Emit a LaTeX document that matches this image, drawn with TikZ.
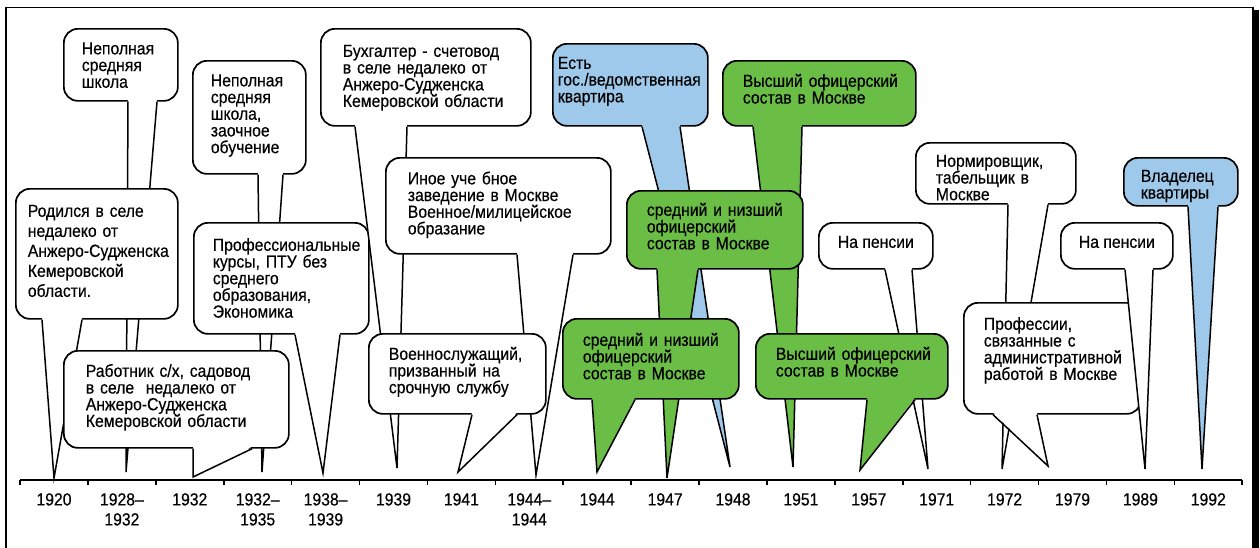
\documentclass[tikz,border=0pt]{standalone}
\usepackage{fontspec}
\setmainfont{Liberation Sans}[FakeStretch=0.9,FakeBold=0.4]
\usepackage{xcolor}
\usetikzlibrary{calc}
\definecolor{bubblegreen}{RGB}{106,189,69}
\definecolor{bubbleblue}{RGB}{158,201,234}
\newcommand{\bubblefont}{\fontsize{17.5}{16.7}\selectfont}
\newcommand{\yearfont}{\fontsize{17.5}{20}\selectfont}
% tail of a bubble: fill, node, left x, right x, tip
\newcommand{\calltail}[5]{%
  \fill[#1] ($(#3,0 |- #2.south)+(0,-2)$) -- (#5) -- ($(#4,0 |- #2.south)+(0,-2)$) -- cycle;
  \draw[tail] (#3,0 |- #2.south) -- (#5) -- (#4,0 |- #2.south);
}

\begin{document}
\begin{tikzpicture}[
  x=1pt,y=-1pt,
  bubble/.style={draw,line width=1.7pt,rounded corners=14pt,anchor=north west,
                 align=left,inner sep=0pt,fill=white,font=\bubblefont},
  greenbubble/.style={bubble,fill=bubblegreen},
  bluebubble/.style={bubble,fill=bubbleblue},
  % width, height, left inset of the text, first baseline below the top
  dims/.code n args={4}{%
    \pgfmathsetlengthmacro\bubbledepth{#2-#4}%
    \tikzset{minimum width=#1pt,minimum height=#2pt,text width=#1pt,
             text height=#4pt,text depth/.expanded=\bubbledepth,
             execute at begin node={\leftskip=#3pt\relax}}},
  tail/.style={line width=1.5pt},
  axis/.style={line width=1.6pt},
  year/.style={anchor=north,align=center,inner sep=0pt,font=\yearfont}
]
\useasboundingbox (0,0) rectangle (1260,547);
\draw[line width=1.5pt] (6,7.5) rectangle (1253,570);
\fill (1253,10) rectangle (1259,570);

% time axis
\draw[axis] (20,480) -- (1242,480);
\foreach \k in {0,...,18}
  \draw[axis] (20+67.9*\k,480) -- ++(0,5);
\foreach \yr [count=\k from 0] in {1920,{1928–\\1932},1932,{1932–\\1935},{1938–\\1939},1939,1941,
    {1944–\\1944},1944,1947,1948,1951,1957,1971,1972,1979,1989,1992}
  \node[year] (y\k) at (54+67.9*\k,493) {\yr};

% tail tips
\coordinate (p1920) at (54,478);
\coordinate (p1928) at (126,472);
\coordinate (p1932) at (193,477);
\coordinate (p1932b) at (262,472);
\coordinate (p1938) at (323,473);
\coordinate (p1939) at (397,468);
\coordinate (p1941) at (458,472);
\coordinate (p1944a) at (536,475);
\coordinate (p1944) at (597,472);
\coordinate (p1947) at (667,478);
\coordinate (p1948) at (730,467);
\coordinate (p1951) at (793,467);
\coordinate (p1957) at (860,470);
\coordinate (p1971) at (928,469);
\coordinate (p1972) at (1002,469);
\coordinate (p1979) at (1048,466);
\coordinate (p1989) at (1145,469);
\coordinate (p1992) at (1202,469);

% bubbles, back to front
\node[bubble,dims={114}{72}{18}{25.5}] (school1) at (63,28)
  {Неполная\\средняя\\школа};
\calltail{white}{school1}{128}{157}{p1928}
\node[bubble,dims={162}{130}{12}{28},font=\fontsize{17.5}{20}\selectfont] (born) at (15,188)
  {Родился в селе\\недалеко от\\Анжеро-Судженска\\Кемеровской\\области.};
\calltail{white}{born}{42}{82}{p1920}
\node[bubble,dims={113}{113}{18}{25.5}] (school2) at (192,60)
  {Неполная\\средняя\\школа,\\заочное\\обучение};
\calltail{white}{school2}{258}{283}{p1932b}
\node[bubble,dims={175}{111}{19}{28}] (courses) at (193,222)
  {Профессиональные\\курсы, ПТУ без\\среднего\\образования,\\Экономика};
\calltail{white}{courses}{295}{340}{p1938}
\node[bubble,dims={225}{97}{22}{26}] (farm) at (63,350)
  {Работник с/х, садовод\\в селе\ \ недалеко от\\Анжеро-Судженска\\Кемеровской области};
\calltail{white}{farm}{193}{252}{p1932}
\node[bubble,dims={210}{97}{22}{28}] (acct) at (320,28)
  {Бухгалтер - счетовод\\в селе недалеко от\\Анжеро-Судженска\\Кемеровской области};
\calltail{white}{acct}{355}{407}{p1939}
\node[bubble,dims={225}{96}{22}{26.5}] (other) at (385,157)
  {Иное уче бное\\заведение в Москве\\Военное/милицейское\\образание};
\calltail{white}{other}{517}{573}{p1944a}
\node[bubble,dims={177}{80}{20}{26}] (soldier) at (368,333)
  {Военнослужащий,\\призванный на\\срочную службу};
\calltail{white}{soldier}{472}{517}{p1941}
\node[bluebubble,dims={155}{82}{5}{25}] (flat) at (552,43)
  {Есть\\гос./ведомственная\\квартира};
\calltail{bubbleblue}{flat}{642}{680}{p1948}
\node[greenbubble,dims={193}{65}{20}{26}] (high1) at (722,60)
  {Высший офицерский\\состав в Москве};
\calltail{bubblegreen}{high1}{753}{802}{p1951}
\node[greenbubble,dims={176}{78}{20}{25}] (mid1) at (626,190)
  {средний и низший\\офицерский\\состав в Москве};
\calltail{bubblegreen}{mid1}{657}{698}{p1947}
\node[greenbubble,dims={176}{80}{20}{27}] (mid2) at (562,318)
  {средний и низший\\офицерский\\состав в Москве};
\calltail{bubblegreen}{mid2}{592}{635}{p1944}
\node[bubble,minimum width=114pt,minimum height=46pt,align=center,
      text height=25pt,text depth=21pt] (pension1) at (818,222)
  {На пенсии};
\calltail{white}{pension1}{885}{912}{p1971}
\node[greenbubble,dims={192}{65}{20}{26}] (high2) at (755,333)
  {Высший офицерский\\состав в Москве};
\calltail{bubblegreen}{high2}{867}{915}{p1957}
\node[bubble,dims={160}{61}{20}{24}] (norm) at (915,142)
  {Нормировщик,\\табельщик в\\Москве};
\calltail{white}{norm}{1008}{1048}{p1972}
\node[bubble,dims={177}{111}{20}{27}] (admin) at (963,302)
  {Профессии,\\связанные с\\административной\\работой в Москве};
\calltail{white}{admin}{993}{1037}{p1979}
\node[bubble,minimum width=112pt,minimum height=46pt,align=center,
      text height=25pt,text depth=21pt] (pension2) at (1060,222)
  {На пенсии};
\calltail{white}{pension2}{1125}{1153}{p1989}
\node[bluebubble,dims={114}{48}{17}{24}] (owner) at (1123,157)
  {Владелец\\квартиры};
\calltail{bubbleblue}{owner}{1188}{1218}{p1992}
\end{tikzpicture}
\end{document}
